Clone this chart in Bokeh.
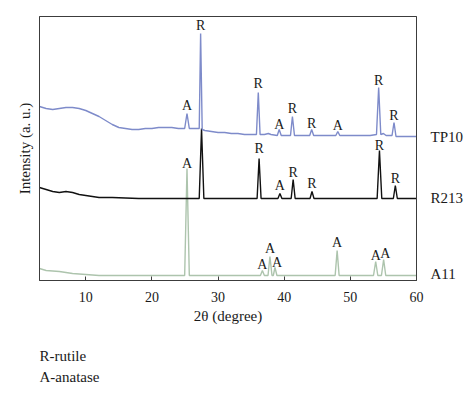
from bokeh.plotting import figure
from bokeh.layouts import column
from bokeh.models import Range1d, FixedTicker, ColumnDataSource, LinearAxis
from bokeh.core.properties import value
from bokeh.embed import file_html
from bokeh.resources import INLINE

FONT = "Liberation Serif"

# ---- data: 2theta (degree) and intensity (a.u., stacked offsets) ----
tp10_x = [3, 4, 5, 6, 7, 8, 9, 10, 11, 12, 13, 14, 15, 16, 17, 18, 19, 20, 21, 22, 23, 24,
          24.95, 25.3, 25.65, 26.5, 27.15, 27.36, 27.6, 28, 29, 30, 31, 32, 33, 34, 35, 35.8,
          36.08, 36.35, 37, 37.6, 38, 38.95, 39.24, 39.55, 40.95, 41.24, 41.55, 42, 43, 43.85,
          44.15, 44.45, 45, 46, 47, 47.8, 48.1, 48.4, 49, 50, 51, 52, 53, 53.95, 54.28, 54.6,
          55.0, 55.4, 56.3, 56.6, 56.9, 58, 59, 60]
tp10_y = [174, 172, 171, 172, 173, 173, 172, 170, 167, 164, 160, 156, 153, 152, 151, 151, 152,
          152, 153, 153, 153, 152, 152, 167, 152, 152, 152, 247, 151, 150, 149, 148, 148, 147,
          147, 146, 146, 146, 188, 146, 146, 147, 146, 145, 151, 145, 145, 164, 145, 145, 145,
          145, 151, 145, 145, 145, 145, 145, 149, 145, 145, 145, 145, 145, 145, 146, 193, 146,
          147, 145, 145, 158, 144, 144, 144, 144]

r213_x = [3, 4, 5, 6, 7, 8, 9, 10, 11, 12, 14, 16, 18, 20, 22, 24, 26, 27.15, 27.5, 27.85, 29,
          31, 33, 35, 35.9, 36.2, 36.5, 38, 39.05, 39.35, 39.65, 41.05, 41.35, 41.65, 43,
          43.9, 44.2, 44.5, 46, 48, 50, 52, 54.05, 54.4, 54.75, 56.5, 56.8, 57.1, 58, 59, 60]
r213_y = [93, 91, 89, 88, 89, 88, 86, 85, 84, 83, 83, 82.5, 82, 82, 82, 82, 82, 82, 152, 82, 82,
          82, 82, 82, 82, 122, 82, 82, 82, 87, 82, 82, 101, 82, 82, 82, 89, 82, 82, 82, 82, 82,
          82, 130, 82, 82, 95, 82, 82, 82, 82]

a11_x = [3, 4, 6, 8, 10, 12, 15, 20, 24.95, 25.3, 25.65, 30, 36.4, 36.7, 37.0, 37.55, 37.84,
         38.15, 38.35, 38.6, 38.9, 43, 47.7, 48.0, 48.3, 53.5, 53.83, 54.15, 54.7, 55.03, 55.35,
         58, 60]
a11_y = [12, 10, 9, 7, 6, 5, 5, 5, 5, 112, 5, 5, 5, 10, 5, 5, 24, 5, 5, 13, 5, 5, 5, 30, 5, 5,
         19, 5, 5, 21, 5, 5, 5]

# peak labels
tp10_lab_x = [25.3, 27.36, 36.08, 39.24, 41.24, 44.15, 48.1, 54.28, 56.6]
tp10_lab_y = [175, 255, 197, 156, 172, 157, 155, 200, 165]
tp10_lab_t = ["A", "R", "R", "A", "R", "R", "A", "R", "R"]

r213_lab_x = [36.2, 39.35, 41.35, 44.2, 54.4, 56.8]
r213_lab_y = [132, 95, 108, 97, 135, 102]
r213_lab_t = ["R", "A", "R", "R", "R", "R"]

a11_lab_x = [25.3, 36.7, 37.84, 38.9, 48.0, 53.83, 55.3]
a11_lab_y = [117, 16, 32, 18, 38, 25, 27]
a11_lab_t = ["A", "A", "A", "A", "A", "A", "A"]

series_names = ["TP10", "R213", "A11"]
series_label_y = [144, 83, 7]
x_ticks = [10, 20, 30, 40, 50, 60]
legend_lines = ["R-rutile", "A-anatase"]
legend_rows = [36, 15]

BLUE = "#7e8bca"
BLACK = "#111111"
GREEN = "#adc4ad"
AXIS = "#3c3c3c"
TXT = "#1a1a1a"

p = figure(width=466, height=340, output_backend="svg", toolbar_location=None,
           x_range=Range1d(3, 60), y_range=Range1d(0, 264),
           min_border_left=39, min_border_right=48, min_border_top=16, min_border_bottom=60,
           background_fill_color="white", border_fill_color="white")
p.xgrid.visible = False
p.ygrid.visible = False
p.outline_line_color = AXIS
p.outline_line_width = 1

p.line(a11_x, a11_y, line_color=GREEN, line_width=1.4)
p.line(r213_x, r213_y, line_color=BLACK, line_width=1.4)
p.line(tp10_x, tp10_y, line_color=BLUE, line_width=1.4)

for xs, ys, ts in [(tp10_lab_x, tp10_lab_y, tp10_lab_t),
                   (r213_lab_x, r213_lab_y, r213_lab_t),
                   (a11_lab_x, a11_lab_y, a11_lab_t)]:
    src = ColumnDataSource(dict(x=xs, y=ys, t=ts))
    p.text(x="x", y="y", text="t", source=src, text_font=value(FONT),
           text_font_size="14px", text_color=TXT,
           text_align="center", text_baseline="middle")

xa = p.xaxis[0]
xa.ticker = FixedTicker(ticks=x_ticks)
xa.minor_tick_line_color = None
xa.major_tick_in = 4
xa.major_tick_out = 0
xa.major_tick_line_color = AXIS
xa.axis_line_color = AXIS
xa.major_label_text_font = FONT
xa.major_label_text_font_size = "14px"
xa.major_label_text_color = TXT
xa.major_label_standoff = 11
xa.axis_label = "2θ (degree)"
xa.axis_label_text_font = FONT
xa.axis_label_text_font_size = "15px"
xa.axis_label_text_font_style = "normal"
xa.axis_label_text_color = TXT
xa.axis_label_standoff = 3

ya = p.yaxis[0]
ya.ticker = FixedTicker(ticks=[])
ya.minor_tick_line_color = None
ya.major_tick_line_color = None
ya.major_label_text_font_size = "0px"
ya.axis_line_color = AXIS
ya.axis_label = "Intensity (a. u.)"
ya.axis_label_text_font = FONT
ya.axis_label_text_font_size = "15px"
ya.axis_label_text_font_style = "normal"
ya.axis_label_text_color = TXT
ya.axis_label_standoff = 7

# series names on the right, as tick labels of a right-hand axis
ra = LinearAxis(ticker=FixedTicker(ticks=series_label_y),
                major_label_overrides={y: n for y, n in zip(series_label_y, series_names)},
                major_tick_line_color=None, minor_tick_line_color=None,
                axis_line_color=AXIS, major_label_standoff=8,
                major_label_text_font=FONT, major_label_text_font_size="15px",
                major_label_text_color=TXT)
p.add_layout(ra, "right")

# notes below the chart: a small text-only figure (its frame is aligned with the plot's)
note = figure(width=466, height=51, output_backend="svg", toolbar_location=None,
              x_axis_location=None, y_axis_location=None,
              x_range=Range1d(0, 1), y_range=Range1d(0, 51),
              min_border_left=39, min_border_right=48, min_border_top=0, min_border_bottom=0,
              background_fill_color="white", border_fill_color="white")
note.grid.visible = False
note.outline_line_color = None
note.text(x=[0] * len(legend_lines), y=legend_rows, text=legend_lines,
          text_font=value(FONT), text_font_size="15px", text_color=TXT,
          text_align="left", text_baseline="middle")

layout = column(p, note, spacing=0)
open("out.html", "w").write(file_html(layout, INLINE))
